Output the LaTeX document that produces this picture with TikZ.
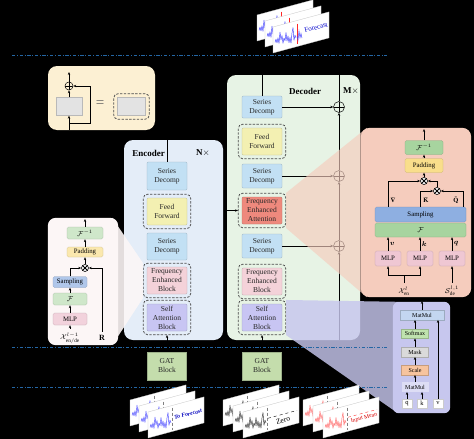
\documentclass[tikz,border=0pt]{standalone}
\usepackage{fontspec}
\usepackage{amsmath}
\setmainfont{Liberation Serif}
\usetikzlibrary{arrows.meta,positioning,fit,calc}

\definecolor{sepblue}{HTML}{2466A4}
\definecolor{legbg}{HTML}{FCF0D3}
\definecolor{encbg}{HTML}{E4EDF8}
\definecolor{decbg}{HTML}{E7F3E5}
\definecolor{sdblue}{HTML}{C2E0F4}
\definecolor{ffyel}{HTML}{F3F0B2}
\definecolor{febpink}{HTML}{F4D2D9}
\definecolor{sablav}{HTML}{C8C5F3}
\definecolor{feared}{HTML}{EE897D}
\definecolor{gatgrn}{HTML}{C4DDAC}
\definecolor{peach}{HTML}{F5CCBD}
\definecolor{ftgrn}{HTML}{A7D49F}
\definecolor{padyel}{HTML}{F9DE8B}
\definecolor{smpblu}{HTML}{8EAFE1}
\definecolor{mlppk}{HTML}{EFC7D3}
\definecolor{attlav}{HTML}{C7C7EE}
\definecolor{mmblue}{HTML}{C3D6F0}
\definecolor{smgrn}{HTML}{BFE3AE}
\definecolor{scorg}{HTML}{F7C49E}
\definecolor{mskgray}{HTML}{DADADA}
\definecolor{fanwhite}{HTML}{FCF6F6}

% one slanted card of a series stack: x, y, plot colour, extras
\newcommand{\tscard}[4]{%
  \begin{scope}[shift={(#1,#2)},yslant=.27]
    \filldraw[fill=white,draw=gray!45,line width=.3pt] (0,0) -- (56,0) -- (56,26) -- (0,26) -- cycle;
    \draw[#3,line width=.45pt,line join=round] (2,16) -- (3,13) -- (4,17) -- (5,12) -- (6,18) -- (7,7)
      -- (8,15) -- (9,11) -- (10,19) -- (11,14) -- (12,17) -- (13,9) -- (14,18) -- (15,13) -- (16,20)
      -- (17,15) -- (18,21) -- (19,11) -- (20,6) -- (21,19) -- (22,14) -- (23,17);
    #4
  \end{scope}}

\begin{document}
\begin{tikzpicture}[x=1pt,y=-1pt,
  font=\fontsize{7.5}{9}\selectfont,
  panel/.style={rounded corners=9pt,inner sep=0pt},
  blk/.style={fill=#1,draw=#1!80!black,line width=.3pt,rounded corners=1.2pt,minimum width=40pt,
    minimum height=27pt,inner sep=.5pt,align=center,text=black!85},
  sblk/.style={fill=#1,draw=#1!80!black,line width=.3pt,rounded corners=1.5pt,minimum width=38pt,
    minimum height=14pt,inner sep=.5pt,font=\fontsize{6.8}{7.5}\selectfont},
  ablk/.style={fill=#1,draw=#1!80!black,line width=.3pt,minimum width=27pt,minimum height=9.5pt,
    inner sep=.3pt,font=\fontsize{6}{6.5}\selectfont},
  gblk/.style={fill=gray!22,draw=gray!55,line width=.4pt,minimum width=26pt,minimum height=18pt},
  wrap/.style={draw=black!70,dash pattern=on 2.4pt off 1.4pt,line width=.75pt,rounded corners=4pt,inner sep=3.5pt},
  flow/.style={line width=.5pt,-{Stealth[length=3pt,width=2.4pt]}},
  link/.style={line width=.5pt},
  oplus/.style={circle,draw,line width=.5pt,minimum size=#1,inner sep=0pt,
    path picture={\draw[line width=.5pt] (path picture bounding box.north) -- (path picture bounding box.south)
      (path picture bounding box.west) -- (path picture bounding box.east);}},
  otimes/.style={circle,draw,fill=white,line width=.6pt,minimum size=7pt,inner sep=0pt,
    path picture={\draw[line width=.9pt] (path picture bounding box.north west) -- (path picture bounding box.south east)
      (path picture bounding box.north east) -- (path picture bounding box.south west);}},
  divider/.style={sepblue,line width=.85pt,dash pattern=on 3.4pt off 1.6pt on 1pt off 1.6pt},
  ttl/.style={font=\bfseries\fontsize{9}{9}\selectfont},
  mlab/.style={inner sep=.3pt,font=\fontsize{6.5}{6.5}\selectfont}
]
\useasboundingbox (0,0) rectangle (474,439);
\fill[black] (0,0) rectangle (474,439);

% legend
\node[panel,fill=legbg,minimum width=107pt,minimum height=64pt] (legend) at (101.5,98) {};
\node[gblk] (lgsub) at (69,106.5) {};
\node[oplus=8pt] (lgsum) at (69,86) {};
\coordinate (lgin) at (69,130);
\coordinate (lgfork) at (69,123);
\coordinate (lgout) at (69,72);
\draw[flow] (lgin) -- (lgsub);
\draw[flow] (lgsub) -- (lgsum);
\draw[flow] (lgsum) -- (lgout);
\draw[flow] (lgfork) -- ++(21,0) |- (lgsum);
\node[text=black!60,font=\fontsize{15}{15}\selectfont] (lgeq) at (100,104) {=};
\node[gblk,minimum width=28pt] (lgblk) at (131.5,106.5) {};
\node[wrap,fit=(lgblk)] (lgwrap) {};

% encoder
\node[panel,fill=encbg,minimum width=99pt,minimum height=200pt] (encoder) at (173.5,240) {};
\node[ttl] (enclab) at (148.5,153) {Encoder};
\node[ttl] (encn) at (203,153) {N$\times$};
\node[blk=sdblue,minimum height=28pt] (esd1) at (167,176) {Series\\Decomp};
\node[blk=ffyel] (eff) at (167,211.5) {Feed\\Forward};
\node[blk=sdblue] (esd2) at (167,246.5) {Series\\Decomp};
\node[blk=febpink] (efeb) at (167,280.5) {Frequency\\Enhanced\\Block};
\node[blk=sablav] (esab) at (167,317.5) {Self\\Attention\\Block};
\foreach \n in {eff,efeb,esab} \node[wrap,fit=(\n)] (\n-w) {};

% frequency enhanced block, zoomed
\node[minimum width=70pt,minimum height=127pt] (febpanel) at (83,281.5) {};
\fill[fanwhite,opacity=.9] (efeb-w.north west) -- ($(febpanel.north east)+(-6,0)$)
  -- ($(febpanel.south east)+(-6,0)$) -- (efeb-w.south west) -- cycle;
\fill[fanwhite,rounded corners=8pt] (febpanel.south west) rectangle (febpanel.north east);
\node[sblk=ftgrn!55!white,minimum width=36pt,minimum height=12pt] (lfinv) at (85,233) {$\mathcal{F}^{-1}$};
\node[sblk=padyel!70!white,minimum width=36pt,minimum height=10pt] (lpad) at (85,252) {Padding};
\node[otimes] (lmul) at (85,268) {};
\node[sblk=smpblu!70!white,minimum width=34pt,minimum height=11pt] (lsmp) at (70,282) {Sampling};
\node[sblk=ftgrn!55!white,minimum width=34pt,minimum height=12pt] (lft) at (70,299) {$\mathcal{F}$};
\node[sblk=mlppk!80!white,minimum width=34pt,minimum height=12pt] (lmlp) at (70,319) {MLP};
\node (lx) at (70,338) {$\mathcal{X}^{l-1}_{\mathrm{en/de}}$};
\node[font=\bfseries\fontsize{8}{8}\selectfont] (lr) at (102,338) {R};
\coordinate (lout) at (85,219);
\draw[flow] (lfinv) -- (lout);
\draw[flow] (lpad) -- (lfinv);
\draw[flow] (lmul) -- (lpad);
\draw[flow] (lsmp) |- (lmul);
\draw[flow] (lr) |- (lmul);
\draw[flow] (lft) -- (lsmp);
\draw[flow] (lmlp) -- (lft);
\draw[flow] (lx) -- (lmlp);

% decoder
\node[panel,fill=decbg,minimum width=133pt,minimum height=265pt] (decoder) at (293.5,207.5) {};
\node[ttl] (declab) at (305,91) {Decoder};
\node[ttl] (decm) at (351,91) {M$\times$};
\node[blk=sdblue,minimum height=22pt] (dsd1) at (262,107) {Series\\Decomp};
\node[blk=ffyel] (dff) at (262,141.5) {Feed\\Forward};
\node[blk=sdblue,minimum height=24pt] (dsd2) at (262,176) {Series\\Decomp};
\node[blk=feared] (dfea) at (262,210.5) {Frequency\\Enhanced\\Attention};
\node[blk=sdblue,minimum height=24pt] (dsd3) at (262,246) {Series\\Decomp};
\node[blk=febpink] (dfeb) at (262,281.5) {Frequency\\Enhanced\\Block};
\node[blk=sablav] (dsab) at (262,317.5) {Self\\Attention\\Block};
\foreach \n in {dff,dfea,dfeb,dsab} \node[wrap,fit=(\n)] (\n-w) {};
\node[oplus=11pt] (dsum1) at (339,107) {};
\node[oplus=11pt] (dsum2) at (339,176) {};
\node[oplus=11pt] (dsum3) at (339,246) {};
\coordinate (dtrend) at (339,340);
\coordinate (dout) at (339,58);
\coordinate (dtop) at (262,60);
\draw[flow] (dtrend) -- (dsum3);
\draw[flow] (dsum3) -- (dsum2);
\draw[flow] (dsum2) -- (dsum1);
\draw[flow] (dsum1) -- (dout);
\foreach \i in {1,2,3} \draw[flow] (dsd\i) -- (dsum\i);
\draw[link] (dsd1) -- (dtop);

% encoder output into the cross attention
\coordinate (etop) at (167,131);
\coordinate (xgap) at (225,131);
\draw[flow] (esd1) -- (etop) -- (xgap) |- (dfea-w);

% frequency enhanced attention, zoomed
\node[minimum width=110pt,minimum height=169pt] (feapanel) at (416,212.5) {};
\fill[peach,opacity=.65] (dfea-w.north east) -- ($(feapanel.north west)+(6,0)$)
  -- ($(feapanel.south west)+(6,0)$) -- (dfea-w.south east) -- cycle;
\fill[peach,rounded corners=9pt] (feapanel.south west) rectangle (feapanel.north east);
\node[sblk=ftgrn] (pfinv) at (424,147.5) {$\mathcal{F}^{-1}$};
\node[sblk=padyel] (ppad) at (424,165.5) {Padding};
\node[otimes] (pmul1) at (424,181) {};
\node[otimes] (pmul2) at (437,191) {};
\node[sblk=smpblu,minimum width=91pt,minimum height=15pt] (psmp) at (420.5,214.5) {Sampling};
\node[sblk=ftgrn,minimum width=91pt,minimum height=14pt] (pft) at (420.5,230) {$\mathcal{F}$};
\node[sblk=mlppk,minimum width=26pt,minimum height=15pt] (pmlp1) at (388,258.5) {MLP};
\node[sblk=mlppk,minimum width=26pt,minimum height=15pt] (pmlp2) at (420,258.5) {MLP};
\node[sblk=mlppk,minimum width=26pt,minimum height=15pt] (pmlp3) at (452,258.5) {MLP};
\node (pxen) at (404,291) {$\mathcal{X}^{l}_{\mathrm{en}}$};
\node (psde) at (452,291) {$\mathcal{S}^{l,1}_{\mathrm{de}}$};
\node[mlab] (ltv) at (393,200) {$\tilde{\mathbf{V}}$};
\node[mlab] (ltk) at (426,200) {$\tilde{\mathbf{K}}$};
\node[mlab] (ltq) at (456,200) {$\tilde{\mathbf{Q}}$};
\coordinate (pout) at (424,129);
\coordinate (pjoin) at (404,275);
\coordinate (pq) at ($(psmp.north east)+(-3,0)$);
\draw[flow] (pfinv) -- (pout);
\draw[flow] (ppad) -- (pfinv);
\draw[flow] (pmul1) -- (ppad);
\draw[flow] (pmul2) |- (pmul1);
\draw[flow] (psmp.north -| pmlp1) |- (pmul1);
\draw[flow] (psmp.north -| pmlp2) |- (pmul2);
\draw[flow] (pq) |- (pmul2);
\foreach \n/\lab in {pmlp1/v,pmlp2/k,pmlp3/q}
  \draw[flow] (\n) -- node[right,inner sep=1.5pt] {$\boldsymbol{\lab}$} (\n |- pft.south);
\draw[link] (pxen) -- (pjoin);
\draw[flow] (pjoin) -| (pmlp1);
\draw[flow] (pjoin) -| (pmlp2);
\draw[flow] (psde) -- (pmlp3);

% self attention, zoomed
\node[minimum width=57pt,minimum height=111pt] (attpanel) at (421.5,357.5) {};
\fill[attlav,opacity=.82] (dsab-w.north east) -- ($(attpanel.north west)+(5,0)$)
  -- ($(attpanel.south west)+(5,0)$) -- (dsab-w.south east) -- cycle;
\fill[attlav,rounded corners=6pt] (attpanel.south west) rectangle (attpanel.north east);
\node[ablk=mmblue,minimum width=44pt] (amm1) at (422,315) {MatMul};
\node[ablk=smgrn] (asoft) at (415,333.5) {Softmax};
\node[ablk=mskgray] (amask) at (415,352) {Mask};
\node[ablk=scorg] (ascale) at (415,370) {Scale};
\node[ablk=attlav!60!white,draw=none] (amm2) at (415,387) {MatMul};
\node[ablk=white,minimum width=10pt,minimum height=9pt,font=\fontsize{6.5}{6.5}\selectfont] (aq) at (407,403.5) {q};
\node[ablk=white,minimum width=10pt,minimum height=9pt,font=\fontsize{6.5}{6.5}\selectfont] (ak) at (422,403.5) {k};
\node[ablk=white,minimum width=10pt,minimum height=9pt,font=\fontsize{6.5}{6.5}\selectfont] (av) at (438,403.5) {v};
\coordinate (aout) at (422,301);
\draw[flow] (amm1) -- (aout);
\draw[flow] (asoft) -- (asoft |- amm1.south);
\draw[flow] (amask) -- (asoft);
\draw[flow] (ascale) -- (amask);
\draw[flow] (amm2) -- (ascale);
\draw[flow] (aq) -- (aq |- amm2.south);
\draw[flow] (ak) -- (ak |- amm2.south);
\draw[flow] (av) -- (av |- amm1.south);

% graph blocks
\node[blk=gatgrn,minimum width=39pt,minimum height=28pt,rounded corners=0pt] (egat) at (167,366) {GAT\\Block};
\node[blk=gatgrn,minimum width=39pt,minimum height=28pt,rounded corners=0pt] (dgat) at (262,366) {GAT\\Block};
\draw[flow] (egat) -- (esab-w);
\draw[flow] (dgat) -- (dsab-w);

\foreach \yy in {55,347,387} \draw[divider] (12,\yy) -- (387,\yy);

% series stacks
\foreach \x/\y in {257/15,265/21}{
  \tscard{\x}{\y}{blue!75}{\draw[red!85,line width=.5pt] (24,3) -- (24,23);
    \draw[blue!75,line width=.45pt] (24,15) -- (25,20) -- (26,11) -- (27,18) -- (28,14) -- (29,19);}}
\tscard{273}{27}{blue!75}{\draw[red!85,line width=.5pt] (24,3) -- (24,23);
  \draw[blue!75,line width=.45pt] (24,15) -- (25,20) -- (26,11) -- (27,18) -- (28,14) -- (29,19);
  \node[rotate=15,text=blue!80!black,font=\fontsize{7}{7}\selectfont] (fctxt) at (43,12) {Forecast};}

\foreach \x/\y in {130/400,139/406}{
  \tscard{\x}{\y}{blue!70}{\draw[gray,densely dashed,line width=.3pt] (24,2) -- (24,24);}}
\tscard{148}{412}{blue!70}{\draw[gray,densely dashed,line width=.3pt] (24,2) -- (24,24);
  \node[rotate=15,text=blue!75!black,font=\bfseries\itshape\fontsize{5.8}{5.8}\selectfont] (tfctxt) at (40,13) {To Forecast};}

\foreach \x/\y in {223/400,233/406}{
  \tscard{\x}{\y}{black!80}{\draw[gray,densely dashed,line width=.3pt] (24,2) -- (24,24);
    \draw[black,dashed,line width=.4pt] (25,13) -- (54,13);}}
\tscard{243}{412}{black!80}{\draw[gray,densely dashed,line width=.3pt] (24,2) -- (24,24);
  \draw[black,dashed,line width=.4pt] (25,13) -- (54,13);
  \node[rotate=15,font=\fontsize{7.5}{7.5}\selectfont] (zrtxt) at (40,19) {Zero};}

\foreach \x/\y in {303/400,313/406}{
  \tscard{\x}{\y}{red!60}{\draw[gray,densely dashed,line width=.3pt] (24,2) -- (24,24);
    \draw[red!80,dashed,line width=.4pt] (25,12) -- (54,12);}}
\tscard{323}{412}{red!60}{\draw[gray,densely dashed,line width=.3pt] (24,2) -- (24,24);
  \draw[red!80,dashed,line width=.4pt] (25,12) -- (54,12);
  \node[rotate=15,text=red!85!black,font=\fontsize{5.8}{5.8}\selectfont] (imtxt) at (41,17) {Input Mean};}
\end{tikzpicture}
\end{document}
